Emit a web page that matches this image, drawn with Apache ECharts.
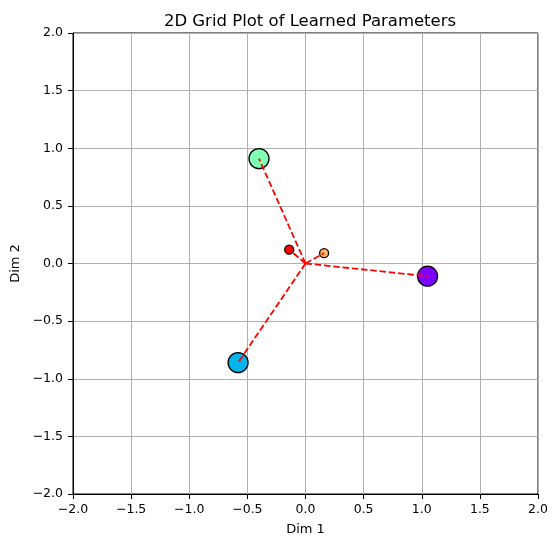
<!DOCTYPE html>
<html>
<head>
<meta charset="utf-8">
<script src="https://cdn.jsdelivr.net/npm/echarts@6/dist/echarts.min.js"></script>
<style>html,body{margin:0;padding:0;background:#fff}#c{width:558px;height:547px}</style>
</head>
<body>
<div id="c"></div>
<script>
const pointNames = ['P1', 'P2', 'P3', 'P4', 'P5'];
const dim1 = [1.05, -0.58, -0.40, 0.16, -0.14];
const dim2 = [-0.11, -0.86, 0.91, 0.09, 0.12];
const pointColors = ['#8000ff', '#00b4eb', '#80ffb4', '#ffb462', '#ff0000'];
const pointSizes = [20, 20, 20, 9, 9];
const origin = [0, 0];

const fmt = v => (v < 0 ? '\u2212' : '') + Math.abs(v).toFixed(1);
const font = 'DejaVu Sans';

const scatterData = dim1.map((x, i) => ({
  name: pointNames[i],
  value: [x, dim2[i]],
  symbolSize: pointSizes[i],
  itemStyle: { color: pointColors[i], opacity: 1, borderColor: '#000', borderWidth: 1.3 }
}));

const lineSeries = dim1.map((x, i) => ({
  type: 'line',
  data: [origin, [x, dim2[i]]],
  symbol: 'none',
  z: 5,
  lineStyle: { color: '#ff0000', width: 1.8, type: [6.5, 2.8] },
  silent: true,
  animation: false
}));

const chart = echarts.init(document.getElementById('c'));
chart.setOption({
  animation: false,
  backgroundColor: '#fff',
  title: {
    text: '2D Grid Plot of Learned Parameters',
    left: 305, top: 8, textAlign: 'center',
    textStyle: { fontFamily: font, fontSize: 16.5, fontWeight: 'normal', color: '#000' }
  },
  grid: { left: 73, right: 20, top: 33, bottom: 53, show: true, borderColor: '#000', borderWidth: 1, backgroundColor: 'transparent' },
  xAxis: {
    type: 'value', min: -2, max: 2, interval: 0.5,
    name: 'Dim 1', nameLocation: 'middle', nameGap: 29,
    nameTextStyle: { fontFamily: font, fontSize: 13, color: '#000' },
    axisLine: { onZero: false, lineStyle: { color: '#000', width: 1 } },
    axisTick: { show: true, length: 5, lineStyle: { color: '#000' } },
    axisLabel: { formatter: fmt, fontFamily: font, fontSize: 12.5, color: '#000', margin: 9 },
    splitLine: { show: true, lineStyle: { color: '#b0b0b0', width: 1 } }
  },
  yAxis: {
    type: 'value', min: -2, max: 2, interval: 0.5,
    name: 'Dim 2', nameLocation: 'middle', nameGap: 49, nameRotate: 90,
    nameTextStyle: { fontFamily: font, fontSize: 13, color: '#000' },
    axisLine: { show: true, onZero: false, lineStyle: { color: '#000', width: 1 } },
    axisTick: { show: true, length: 5, lineStyle: { color: '#000' } },
    axisLabel: { formatter: fmt, fontFamily: font, fontSize: 12.5, color: '#000', margin: 10 },
    splitLine: { show: true, lineStyle: { color: '#b0b0b0', width: 1 } }
  },
  series: [
    { type: 'scatter', data: scatterData, z: 3, animation: false }
  ].concat(lineSeries)
});
</script>
</body>
</html>
